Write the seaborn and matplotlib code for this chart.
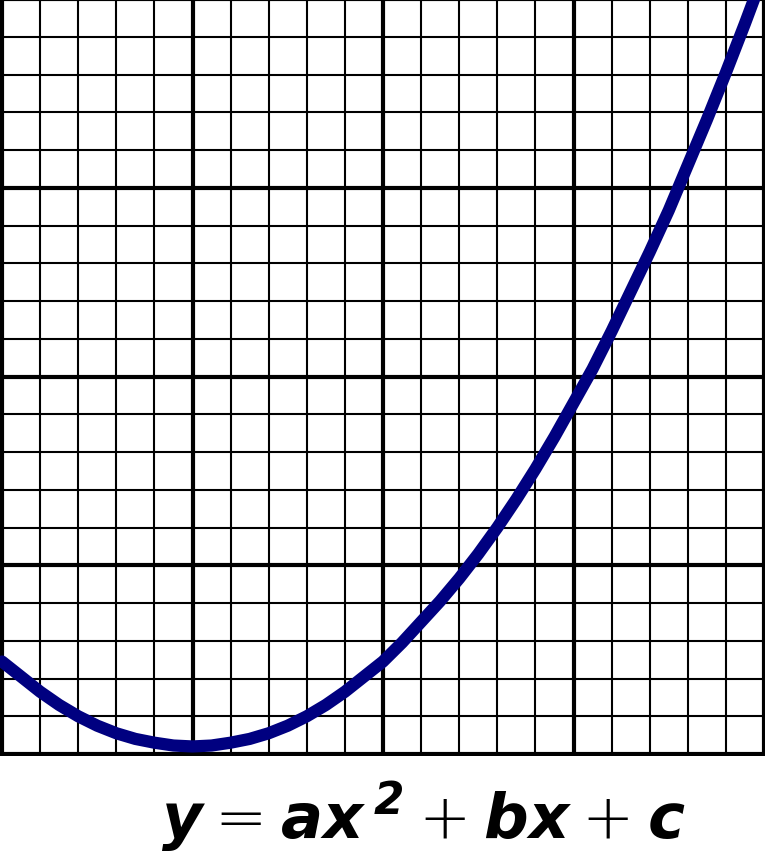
import matplotlib
matplotlib.use("Agg")
import matplotlib.pyplot as plt
import numpy as np
import pandas as pd
import seaborn as sns

# Values (grid units: 1 major square = 1)
x_vals = [0.0, 0.1, 0.2, 0.3, 0.4, 0.5, 0.6, 0.7, 0.8, 0.9, 1.0,
          1.1, 1.2, 1.3, 1.4, 1.5, 1.6, 1.7, 1.8, 1.9, 2.0,
          2.1, 2.2, 2.3, 2.4, 2.5, 2.6, 2.7, 2.8, 2.9, 3.0,
          3.1, 3.2, 3.3, 3.4, 3.5, 3.6, 3.7, 3.8, 3.9, 4.0]
y_vals = [0.49, 0.41, 0.33, 0.26, 0.20, 0.15, 0.11, 0.08, 0.06, 0.045, 0.04,
          0.045, 0.06, 0.08, 0.11, 0.15, 0.20, 0.26, 0.33, 0.41, 0.49,
          0.59, 0.70, 0.81, 0.93, 1.06, 1.20, 1.35, 1.51, 1.68, 1.86,
          2.04, 2.24, 2.45, 2.66, 2.88, 3.12, 3.36, 3.61, 3.87, 4.14]
major_ticks = [0, 1, 2, 3, 4]
minor_ticks = [0.2, 0.4, 0.6, 0.8, 1.2, 1.4, 1.6, 1.8, 2.2, 2.4, 2.6, 2.8,
               3.2, 3.4, 3.6, 3.8]
equation = r"$y = ax^{\,\mathbf{2}} + bx + c$"

sns.set_theme(style="white")
plt.rcParams["mathtext.fontset"] = "custom"
plt.rcParams["mathtext.rm"] = "DejaVu Sans:light"
plt.rcParams["mathtext.it"] = "DejaVu Sans:bold:italic"
plt.rcParams["mathtext.bf"] = "DejaVu Sans:bold:italic"

W, H = 768, 854
fig = plt.figure(figsize=(W / 100, H / 100), dpi=100)
fig.patch.set_facecolor("white")

ux = 190.5
uy = 190.0
ax = fig.add_axes([0, (H - 757) / H, 765 / W, 757 / H])
ax.set_facecolor("white")

df = pd.DataFrame({"x": x_vals, "y": y_vals})
sns.lineplot(data=df, x="x", y="y", ax=ax, color="#000080", linewidth=8.8,
             sort=False, solid_capstyle="round", solid_joinstyle="round", zorder=5)

ax.set_xlim(-2 / ux, 763 / ux)
ax.set_ylim(-2 / uy, 755 / uy)
ax.set_xticks(major_ticks)
ax.set_yticks(major_ticks)
ax.set_xticks(minor_ticks, minor=True)
ax.set_yticks(minor_ticks, minor=True)
ax.grid(which="major", color="black", linewidth=3.0)
ax.grid(which="minor", color="black", linewidth=1.5)
ax.set_axisbelow(True)
ax.tick_params(which="both", length=0, labelbottom=False, labelleft=False)
ax.set_xlabel("")
ax.set_ylabel("")
for s in ax.spines.values():
    s.set_visible(False)

fig.text(423 / W, 15 / H, equation, ha="center", va="baseline", fontsize=45,
         color="black")

fig.savefig("out.png", dpi=100, facecolor="white")
